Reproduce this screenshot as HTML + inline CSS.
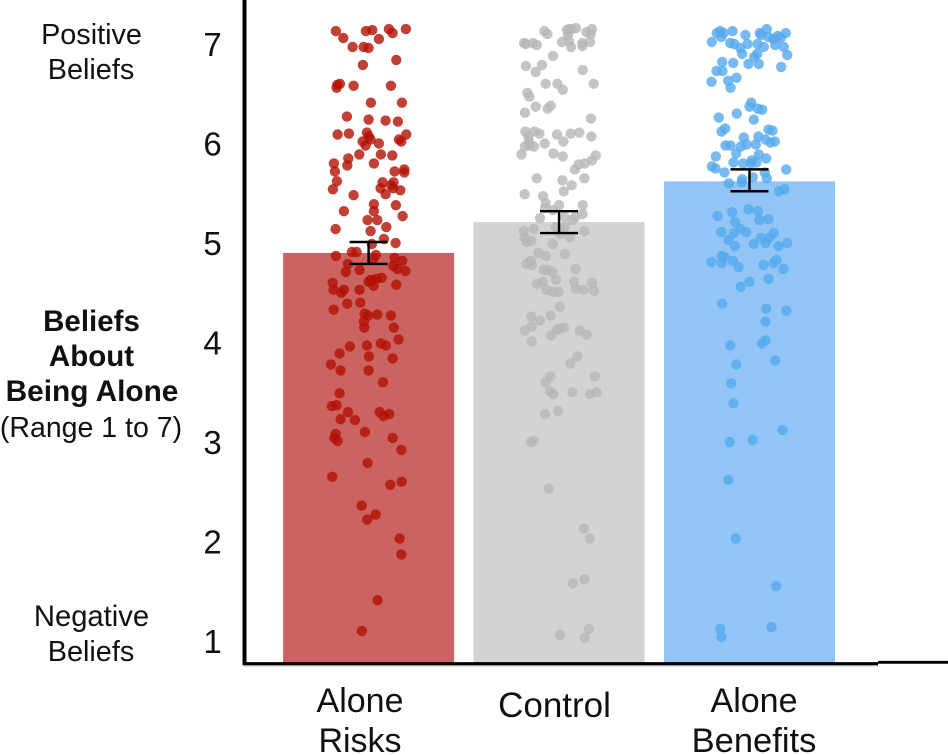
<!DOCTYPE html>
<html lang="en">
<head>
<meta charset="utf-8">
<title>Beliefs About Being Alone</title>
<style>
html,body{margin:0;padding:0;background:#fff;}
body{width:948px;height:755px;overflow:hidden;}
svg{display:block;}
text{font-family:"Liberation Sans",sans-serif;fill:#111;}
</style>
</head>
<body>
<svg id="chart" xmlns="http://www.w3.org/2000/svg" width="948" height="755" viewBox="0 0 948 755">
  <g text-anchor="middle">
    <text x="91.5" y="44" font-size="28.8">Positive</text>
    <text x="91" y="79" font-size="28.8">Beliefs</text>
    <text x="91.5" y="331" font-size="29.5" font-weight="bold">Beliefs</text>
    <text x="91.5" y="366" font-size="29.5" font-weight="bold">About</text>
    <text x="92" y="401" font-size="29.8" font-weight="bold">Being Alone</text>
    <text x="91" y="437" font-size="28.5">(Range 1 to 7)</text>
    <text x="91.5" y="626" font-size="29.2">Negative</text>
    <text x="91" y="661" font-size="28.8">Beliefs</text>
  </g>
  <g id="yTicks" text-anchor="middle"></g>
  <g id="plot"></g>
  <g>
    <line x1="244.5" y1="0" x2="244.5" y2="665" stroke="#000" stroke-width="4"/>
    <line x1="243" y1="666" x2="878" y2="666" stroke="#bbb" stroke-width="1"/>
    <line x1="243" y1="663.7" x2="878" y2="663.7" stroke="#000" stroke-width="3.2"/>
    <line x1="878" y1="662.3" x2="948" y2="662.3" stroke="#000" stroke-width="2.8"/>
  </g>
  <g text-anchor="middle">
    <text x="360" y="712" font-size="34">Alone</text>
    <text x="360" y="752" font-size="34">Risks</text>
    <text x="554.5" y="717" font-size="35">Control</text>
    <text x="754" y="712" font-size="34">Alone</text>
    <text x="754" y="752" font-size="34.5">Benefits</text>
  </g>
</svg>
<script>
const categories = ["Alone Risks", "Control", "Alone Benefits"];
const means = [4.90, 5.21, 5.62];
const errorHigh = [5.01, 5.32, 5.74];
const errorLow = [4.79, 5.10, 5.52];
const yTickLabels = [1, 2, 3, 4, 5, 6, 7];

const riskJitter = [
-19.6,-15.2,-1.6,2.2,12.2,14.4,22.4,6.2,-9.6,-3,
0,16.6,-3.4,-19.2,-18.8,-17.2,-9,13.4,1.4,20,
-13,0,10.2,17.6,-18.6,-11.8,-1,0.2,1.2,-3.6,
-1.8,6.2,22.6,18.2,19.6,-5.6,7.4,14.2,-12.2,-12.8,
-20.8,-20.2,3.2,15.6,21.4,21.4,-19,-21.4,8.4,15,
13.4,7.2,14.8,19,10.2,-9,3.2,3.2,16.4,-14.8,
20.4,-0.6,5.2,-19.8,1.2,10.6,9.2,16.2,2,-10,
-7.2,-19.6,4.4,2.8,15.6,20.2,-12.4,14.8,17.2,22,
-13.6,-5.4,7.8,4.8,1.2,2.4,0,3,-21.6,16.6,
-21,-14.8,-16.4,-5.4,-12.8,-5,-21,-2.4,-0.2,5.2,
13.4,-2.8,-2.6,15.2,18,-11.2,-1,7.4,10.4,-17.4,
0.2,14.4,-22.6,-16.8,0,8.6,-17.4,-19.2,-22,-12.4,
6.6,9,12.4,-16.8,-8.2,-2.2,-19.8,-20.6,-18.6,14.4,
19.6,-0.6,-21.8,13,19.8,-4.2,4.2,-0.8,18.6,19.6,
5.4,-4];
const riskValues = [
7.13,7.06,7.13,7.14,7.15,7.11,7.15,7.05,6.97,6.97,
6.96,6.84,6.79,6.56,6.59,6.60,6.58,6.58,6.41,6.41,
6.27,6.24,6.23,6.22,6.09,6.10,6.11,6.07,6.04,6.02,
5.98,6.00,6.09,6.04,6.02,5.89,5.89,5.88,5.85,5.78,
5.80,5.72,5.80,5.72,5.74,5.71,5.62,5.54,5.61,5.61,
5.58,5.55,5.55,5.53,5.49,5.48,5.39,5.32,5.38,5.32,
5.27,5.23,5.23,5.14,5.12,5.16,5.04,5.00,4.99,4.91,
4.91,4.87,4.88,4.84,4.85,4.82,4.79,4.77,4.74,4.72,
4.71,4.73,4.65,4.64,4.63,4.62,4.61,4.57,4.60,4.58,
4.53,4.53,4.50,4.53,4.39,4.40,4.33,4.29,4.27,4.28,
4.27,4.21,4.15,4.15,4.03,3.96,3.97,3.99,3.97,3.89,
3.86,3.84,3.78,3.72,3.72,3.60,3.49,3.37,3.36,3.30,
3.30,3.26,3.28,3.23,3.22,3.10,3.08,3.04,3.01,3.04,
2.92,2.79,2.65,2.57,2.60,2.36,2.27,2.22,2.03,1.87,
1.41,1.10];

const controlJitter = [
-8.8,-7,5.8,10.2,7.8,4.8,16.4,19.8,19,5.4,
-21,-20,-15.6,-13.4,1.8,6,18.6,14,14,7.2,
-3.6,-19.8,-10.2,-14,14.2,-8,-1,2.2,20.8,-19,
-17.8,-14,-5,-6.8,-20.4,19.2,-20.2,-14.8,-11.8,-18.4,
-1.2,7,12.2,19.4,-8.6,2.6,-18,-18,-20.6,-15,
-22.6,-3.4,2.2,22,19.8,15.4,11.8,9.6,-13.4,2,
15.2,7.6,2.8,-20.6,-9.6,-8,0,14.2,14.2,-8.4,
-3.6,-11.4,9.8,8,3.4,-15.2,-21.2,-2,3.4,15.2,
0.8,6.4,-20.6,-19.6,-16.6,-3.8,-12.4,-7.8,3.6,-19.6,
-17,-16.2,-9.2,-6.8,-4,10,-1.8,-10,-13.2,9,
19.8,-7.6,-3.6,-0.2,10,14.8,21,0.6,-16.6,-5,
-11.4,-16.4,-20.6,3,0.4,-1.2,-4.8,12.4,16.6,-16.4,
11,6.8,-5.2,21.4,-8,-5.4,-3.4,8,18.6,22.6,
-8.4,-0.6,-15.2,-16.8,-6.2,15,18.4,15.2,8.4,18,
0.6,15.4];
const controlValues = [
7.13,7.10,7.15,7.16,7.15,7.14,7.12,7.15,7.10,7.09,
7.01,7.00,7.01,6.99,7.02,7.03,7.02,7.01,6.98,6.97,
6.88,6.78,6.79,6.72,6.74,6.60,6.60,6.54,6.60,6.51,
6.47,6.37,6.38,6.35,6.31,6.25,6.12,6.12,6.10,6.07,
6.09,6.10,6.11,6.07,6.00,6.02,6.02,5.98,5.97,5.97,
5.89,5.90,5.87,5.88,5.83,5.80,5.79,5.74,5.65,5.63,
5.65,5.58,5.52,5.49,5.47,5.40,5.38,5.38,5.29,5.35,
5.33,5.25,5.26,5.23,5.26,5.14,5.12,5.16,5.16,5.12,
5.09,5.06,5.05,5.01,5.02,4.99,4.90,4.87,4.89,4.79,
4.82,4.78,4.73,4.73,4.71,4.74,4.63,4.61,4.59,4.61,
4.60,4.53,4.51,4.51,4.54,4.53,4.52,4.36,4.26,4.27,
4.22,4.16,4.12,4.15,4.14,4.13,4.07,4.12,4.08,4.01,
3.86,3.79,3.66,3.66,3.60,3.51,3.48,3.50,3.48,3.50,
3.28,3.31,3.01,3.00,2.53,2.13,2.03,1.62,1.58,1.12,
1.06,1.03];

const benefitJitter = [
-17.6,-19.6,-15.6,-17,-10.2,-2.4,-22.6,6.2,10.4,7,
11.4,14.4,17,21.8,18.8,-11.6,-9.2,-1.2,-5.6,4.8,
8.6,15.4,20.6,-4.4,4.6,2.8,22.6,-16.4,-9.8,-0.6,
5.6,19,-19.8,-16.2,-7.8,-12.8,-22.8,-11.4,1,0,
5,7.6,-7.6,-18.4,2.6,-14.6,-16.8,11.4,13.8,-3.4,
5.4,9.6,12.6,15.2,-14.4,-11.4,-5.2,-1.6,3.8,-8,
-20.2,5.6,10,-9.6,-3.8,1.4,0.8,4.2,-22.6,-20.4,
-15,22,9.2,2,10.4,-12.4,-4.4,-4.6,20.8,17.6,
-19.2,-10.4,-0.6,5,6,11.4,-8.6,-17,-5.6,-2,
-9.4,14.6,6.8,11.8,-12.6,9.6,2.6,-8.8,17.4,22.6,
-16.8,-15,16.2,14.4,-22.8,-16.6,-10,-6.6,8.4,20.4,
11.4,0,-5.2,-16.4,10,22,9.6,9.6,7.4,-11.6,
15.4,-8,-11,-9.6,19.8,2,-11.8,-12.6,-8.2,16,
13.2,-17.6,-16.8];
const benefitValues = [
7.13,7.11,7.11,7.07,7.13,7.09,7.02,7.11,7.15,7.09,
7.07,7.05,7.08,7.11,7.06,7.01,7.00,7.00,6.96,7.00,
6.97,6.99,6.97,6.90,6.90,6.87,6.89,6.82,6.81,6.80,
6.80,6.77,6.73,6.73,6.66,6.63,6.62,6.56,6.41,6.37,
6.35,6.34,6.30,6.26,6.24,6.15,6.12,6.14,6.13,6.06,
6.07,6.04,6.01,6.02,5.98,5.98,5.97,5.99,5.99,5.90,
5.87,5.89,5.85,5.81,5.80,5.83,5.80,5.81,5.77,5.75,
5.71,5.74,5.71,5.66,5.65,5.60,5.64,5.61,5.54,5.52,
5.27,5.31,5.34,5.32,5.23,5.24,5.21,5.11,5.14,5.11,
5.10,5.10,5.05,5.05,5.03,5.00,4.99,4.97,4.97,5.00,
4.87,4.86,4.83,4.80,4.81,4.80,4.82,4.76,4.78,4.74,
4.64,4.61,4.56,4.39,4.34,4.32,4.21,4.02,3.99,3.97,
3.82,3.78,3.59,3.39,3.12,3.02,3.00,2.62,2.03,1.55,
1.14,1.12,1.04];

const seriesJitter = [riskJitter, controlJitter, benefitJitter];
const seriesValues = [riskValues, controlValues, benefitValues];
const barColors = ["#cb6360", "#d2d4d3", "#92c5f5"];
const dotColors = ["#b31204", "#b6b6b6", "#55a9ee"];
const seriesSlugs = ["alone-risks", "control", "alone-benefits"];

const NS = "http://www.w3.org/2000/svg";
const yAxisBase = 641, unitHeight = 99.5, baseline = 663;
const firstCenter = 368.6, step = 190.45, barWidth = 171, capHalf = 19;
const jitterUnit = barWidth / 102.6;
function yScale(v) { return yAxisBase - (v - 1) * unitHeight; }
function xScale(i) { return firstCenter + i * step; }
function jitterScale(i, j) { return xScale(i) + j * jitterUnit; }

const plot = document.getElementById("plot");
const tickGroup = document.getElementById("yTicks");

yTickLabels.forEach(function (t) {
  const label = document.createElementNS(NS, "text");
  
  
  label.setAttribute("x", 212.5);
  label.setAttribute("y", yScale(t) + 12);
  label.setAttribute("font-size", 33);
  label.textContent = t;
  tickGroup.appendChild(label);
});

categories.forEach(function (cat, i) {
  const bar = document.createElementNS(NS, "rect");
  
  
  bar.setAttribute("x", xScale(i) - barWidth / 2);
  bar.setAttribute("y", yScale(means[i]));
  bar.setAttribute("width", barWidth);
  bar.setAttribute("height", baseline - yScale(means[i]));
  bar.setAttribute("fill", barColors[i]);
  plot.appendChild(bar);
});

categories.forEach(function (cat, i) {
  const vals = seriesValues[i], jit = seriesJitter[i];
  vals.forEach(function (v, k) {
    const dot = document.createElementNS(NS, "circle");
    
    
    dot.setAttribute("cx", jitterScale(i, jit[k]).toFixed(1));
    dot.setAttribute("cy", yScale(v).toFixed(1));
    dot.setAttribute("r", 5.2);
    dot.setAttribute("fill", dotColors[i]);
    dot.setAttribute("fill-opacity", 0.8);
    plot.appendChild(dot);
  });
});

function errLine(x1, y1, x2, y2, name) {
  const l = document.createElementNS(NS, "line");
  
  
  l.setAttribute("x1", x1);
  l.setAttribute("y1", y1);
  l.setAttribute("x2", x2);
  l.setAttribute("y2", y2);
  l.setAttribute("stroke", "#000");
  l.setAttribute("stroke-width", 2.4);
  plot.appendChild(l);
}
categories.forEach(function (cat, i) {
  const x = xScale(i), hi = yScale(errorHigh[i]), lo = yScale(errorLow[i]);
  errLine(x, hi, x, lo, 'error-bar-stem-' + seriesSlugs[i]);
  errLine(x - capHalf, hi, x + capHalf, hi, 'error-bar-top-cap-' + seriesSlugs[i]);
  errLine(x - capHalf, lo, x + capHalf, lo, 'error-bar-bottom-cap-' + seriesSlugs[i]);
});
</script>
</body>
</html>
